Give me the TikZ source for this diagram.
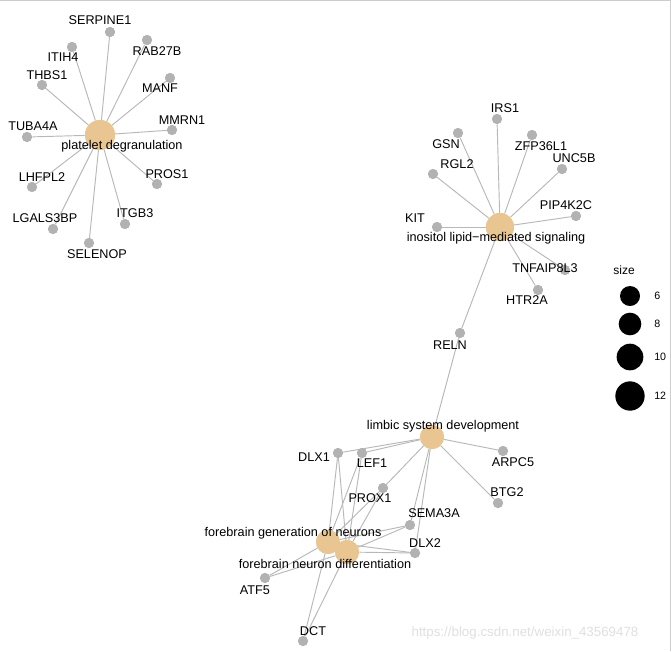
\documentclass[tikz,border=0pt]{standalone}
\usepackage{fontspec}
\setmainfont{Liberation Sans}
\begin{document}
\begin{tikzpicture}[x=0.75pt,y=-0.75pt,
  gene/.style={circle,fill=black!30,inner sep=0pt,minimum size=7.5pt},
  term/.style={circle,fill={rgb,255:red,232;green,197;blue,145},inner sep=0pt},
  lbl/.style={font=\fontsize{9.5}{11}\selectfont,inner sep=0pt},
  edge/.style={draw=black!28,line width=0.7pt},
  leg/.style={circle,fill=black,inner sep=0pt}]
\useasboundingbox (0,0) rectangle (671,651);
\fill[white] (0,0) rectangle (671,651);
\draw[black!20,line width=1pt] (0,0.5) -- (670.5,0.5) -- (670.5,651);
% term nodes
\node[term,minimum size=22.5pt] (pd) at (100,135) {};
\node[term,minimum size=21pt] (ils) at (500,227) {};
\node[term,minimum size=18pt] (lsd) at (432,437) {};
\node[term,minimum size=18pt] (fgn) at (328,542) {};
\node[term,minimum size=18pt] (fnd) at (347,552) {};
% genes
\foreach \n/\x/\y in {SERPINE1/110/32,ITIH4/72/47,RAB27B/147/40,THBS1/42/85,MANF/170/78,MMRN1/172/130,TUBA4A/27/137,PROS1/157/184,LHFPL2/32/187,ITGB3/125/224,LGALS3BP/53/229,SELENOP/89/243,
IRS1/497/119,GSN/458/133,ZFP36L1/532/135,RGL2/433/174,UNC5B/562/169,PIP4K2C/576/216,KIT/437/227,TNFAIP8L3/565/270,HTR2A/538/290,RELN/460/333,
DLX1/338/453,LEF1/362/453,ARPC5/503/451,PROX1/383/488,BTG2/498/503,SEMA3A/410/525,DLX2/415/553,ATF5/265/578,DCT/303/641}
  \node[gene] (g\n) at (\x,\y) {};
% edges
\begin{scope}[on background layer/.try]
\end{scope}
\begin{pgfinterruptboundingbox}\end{pgfinterruptboundingbox}
\foreach \g in {SERPINE1,ITIH4,RAB27B,THBS1,MANF,MMRN1,TUBA4A,PROS1,LHFPL2,ITGB3,LGALS3BP,SELENOP}
  \path[edge] (pd) -- (g\g);
\foreach \g in {IRS1,GSN,ZFP36L1,RGL2,UNC5B,PIP4K2C,KIT,TNFAIP8L3,HTR2A,RELN}
  \path[edge] (ils) -- (g\g);
\foreach \g in {RELN,DLX1,LEF1,ARPC5,PROX1,BTG2,SEMA3A,DLX2}
  \path[edge] (lsd) -- (g\g);
\foreach \g in {DLX1,LEF1,PROX1,SEMA3A,DLX2,ATF5,DCT}
  {\path[edge] (fgn) -- (g\g); \path[edge] (fnd) -- (g\g);}
% redraw nodes on top
\node[term,minimum size=22.5pt] at (100,135) {};
\node[term,minimum size=21pt] at (500,227) {};
\node[term,minimum size=18pt] at (432,437) {};
\node[term,minimum size=18pt] at (328,542) {};
\node[term,minimum size=18pt] at (347,552) {};
\foreach \n/\x/\y in {SERPINE1/110/32,ITIH4/72/47,RAB27B/147/40,THBS1/42/85,MANF/170/78,MMRN1/172/130,TUBA4A/27/137,PROS1/157/184,LHFPL2/32/187,ITGB3/125/224,LGALS3BP/53/229,SELENOP/89/243,
IRS1/497/119,GSN/458/133,ZFP36L1/532/135,RGL2/433/174,UNC5B/562/169,PIP4K2C/576/216,KIT/437/227,TNFAIP8L3/565/270,HTR2A/538/290,RELN/460/333,
DLX1/338/453,LEF1/362/453,ARPC5/503/451,PROX1/383/488,BTG2/498/503,SEMA3A/410/525,DLX2/415/553,ATF5/265/578,DCT/303/641}
  \node[gene] at (\x,\y) {};
% labels
\foreach \n/\x/\y in {SERPINE1/100/20,ITIH4/63/57,RAB27B/157/51,THBS1/47/75,MANF/160/88,MMRN1/182/120,TUBA4A/33/126,PROS1/167/174,LHFPL2/42/177,ITGB3/135/213,LGALS3BP/45/218,SELENOP/97/254,
IRS1/505/108,GSN/446/144,ZFP36L1/541/146,RGL2/457/164,UNC5B/574/158,PIP4K2C/566/205,KIT/415/218,TNFAIP8L3/545/268,HTR2A/527/300,RELN/450/345,
DLX1/314/457,LEF1/372/463,ARPC5/513/462,PROX1/370/498,BTG2/507/492,SEMA3A/434/513,DLX2/425/543,ATF5/255/590,DCT/313/631}
  \node[lbl] (l\n) at (\x,\y) {\n};
\node[lbl] (lpd) at (122,146) {platelet degranulation};
\node[lbl] (lils) at (496,238) {inositol lipid−mediated signaling};
\node[lbl] (llsd) at (443,426) {limbic system development};
\node[lbl] (lfgn) at (293,533) {forebrain generation of neurons};
\node[lbl] (lfnd) at (325,564) {forebrain neuron differentiation};
% legend
\node[lbl,font=\fontsize{9}{11}\selectfont] (lsize) at (624,270) {size};
\node[leg,minimum size=15pt] (s6) at (630,296) {};
\node[leg,minimum size=17pt] (s8) at (630,324) {};
\node[leg,minimum size=20pt] (s10) at (630,357) {};
\node[leg,minimum size=22pt] (s12) at (630,396) {};
\foreach \t/\y in {6/296,8/324,10/357,12/396}
  \node[lbl,font=\fontsize{8}{10}\selectfont,anchor=west] (n\t) at (654,\y) {\t};
\node[lbl,text=black!12,font=\fontsize{10}{12}\selectfont] (wm) at (525,633) {https://blog.csdn.net/weixin\_43569478};
\end{tikzpicture}
\end{document}
